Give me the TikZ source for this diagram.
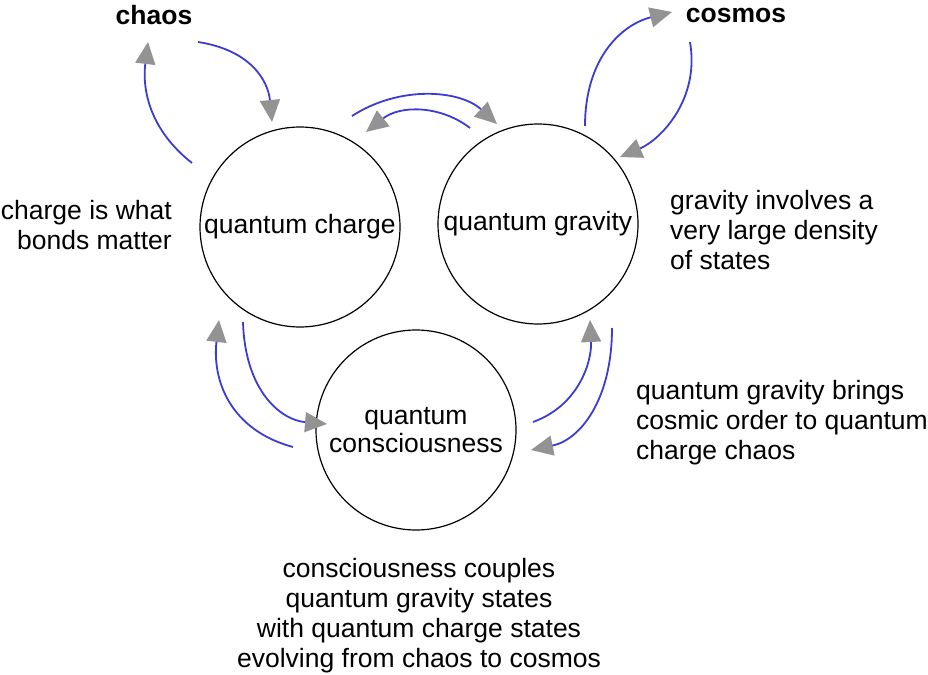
\documentclass[tikz,border=0pt]{standalone}
\usepackage{fontspec}
\setmainfont{Liberation Sans}
\usetikzlibrary{arrows.meta}
\begin{document}
\begin{tikzpicture}[x=1pt,y=-1pt,
  circ/.style={draw,circle,line width=1.2pt,minimum size=200pt,inner sep=0pt,font=\fontsize{26.5}{28}\selectfont,align=center},
  lab/.style={font=\fontsize{26.5}{30}\selectfont,inner sep=0pt},
  flow/.style={draw={rgb,255:red,60;green,60;blue,210},line width=1.8pt,-{Triangle[length=22pt,width=20pt,fill=gray!85,color=gray!85]}}]
\useasboundingbox (0,0) rectangle (928,674);
\node[circ] (qc) at (300,227) {quantum charge};
\node[circ] (qg) at (538,224) {quantum gravity};
\node[circ] (qx) at (416,430) {quantum\\consciousness};
\node[lab,font=\bfseries\fontsize{26.5}{28}\selectfont] (chaos) at (154,15) {chaos};
\node[lab,font=\bfseries\fontsize{26.5}{28}\selectfont] (cosmos) at (736,15) {cosmos};
\node[lab,align=right,anchor=east] (t1) at (172,225) {charge is what\\bonds matter};
\node[lab,align=left,anchor=north west] (t2) at (670,190) {gravity involves a\\very large density\\of states};
\node[lab,align=left,anchor=north west] (t3) at (636,380) {quantum gravity brings\\cosmic order to quantum\\charge chaos};
\node[lab,align=center,anchor=north] (t4) at (419,558) {consciousness couples\\quantum gravity states\\with quantum charge states\\evolving from chaos to cosmos};
\coordinate (a1) at (192,163); \coordinate (b1) at (148,42);
\coordinate (a2) at (198,42); \coordinate (b2) at (272,122);
\coordinate (a3) at (352,116); \coordinate (b3) at (497,124);
\coordinate (a4) at (470,128); \coordinate (b4) at (366,132);
\coordinate (a5) at (585,126); \coordinate (b5) at (672,12);
\coordinate (a6) at (690,42); \coordinate (b6) at (620,157);
\coordinate (a7) at (293,447); \coordinate (b7) at (219,320);
\coordinate (a8) at (243,322); \coordinate (b8) at (327,424);
\coordinate (a9) at (533,422); \coordinate (b9) at (590,320);
\coordinate (a10) at (612,328); \coordinate (b10) at (531,450);
\draw[flow] (a1) .. controls (150,130) and (142,90) .. (b1);
\draw[flow] (a2) .. controls (250,50) and (268,80) .. (b2);
\draw[flow] (a3) .. controls (400,85) and (460,90) .. (b3);
\draw[flow] (a4) .. controls (440,105) and (400,105) .. (b4);
\draw[flow] (a5) .. controls (585,60) and (620,25) .. (b5);
\draw[flow] (a6) .. controls (700,100) and (660,140) .. (b6);
\draw[flow] (a7) .. controls (230,430) and (212,380) .. (b7);
\draw[flow] (a8) .. controls (245,390) and (280,420) .. (b8);
\draw[flow] (a9) .. controls (580,405) and (592,360) .. (b9);
\draw[flow] (a10) .. controls (612,400) and (580,440) .. (b10);
\end{tikzpicture}
\end{document}
